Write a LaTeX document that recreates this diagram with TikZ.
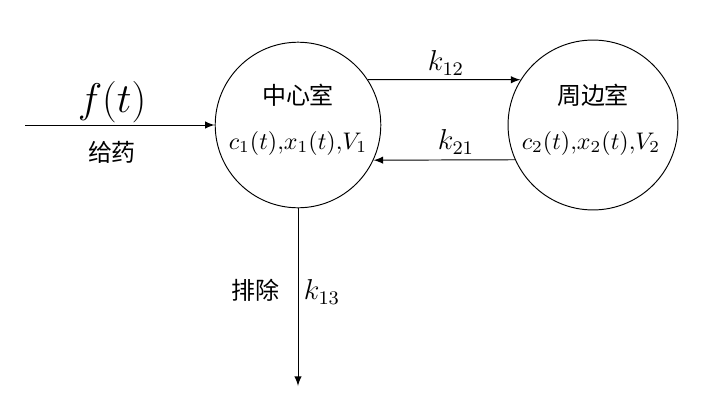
\documentclass[tikz,border=0pt]{standalone}
\usepackage{fontspec}
\newfontfamily\cjk{Noto Sans CJK SC}

\begin{document}
\begin{tikzpicture}[x=0.4167pt,y=-0.4167pt]
				\tikzstyle{room}=[draw,circle,minimum size=69pt,inner sep=0pt]
				\tikzstyle{flow}=[-latex]
				\useasboundingbox (0,0) rectangle (701,408);
				% compartments
				\node[room] (central) at (298,125) {};
				\node[room,minimum size=70.8pt] (peri) at (593,125) {};
				\node at (298,95) {\cjk 中心室};
				\node at (298,143) {$c_1(t){,}x_1(t){,}V_1$};
				\node at (593,95) {\cjk 周边室};
				\node at (591,143) {$c_2(t){,}x_2(t){,}V_2$};
				% dose and elimination
				\coordinate (dose) at (25,125);
				\coordinate (out) at (298,386);
				\draw[flow] (dose) -- (central.west);
				\draw[flow] (central.south) -- (out);
				\draw[flow] (central.33) -- (peri.148);
				\draw[flow] (peri.-156) -- (central.-25);
				% labels
				\node at (112,102) {\fontsize{16}{18}\selectfont $f(t)$};
				\node at (112,152) {\cjk 给药};
				\node at (446,63) {\large $k_{12}$};
				\node at (456,142) {\large $k_{21}$};
				\node at (255,290) {\cjk 排除};
				\node at (322,292) {\large $k_{13}$};
\end{tikzpicture}
\end{document}
